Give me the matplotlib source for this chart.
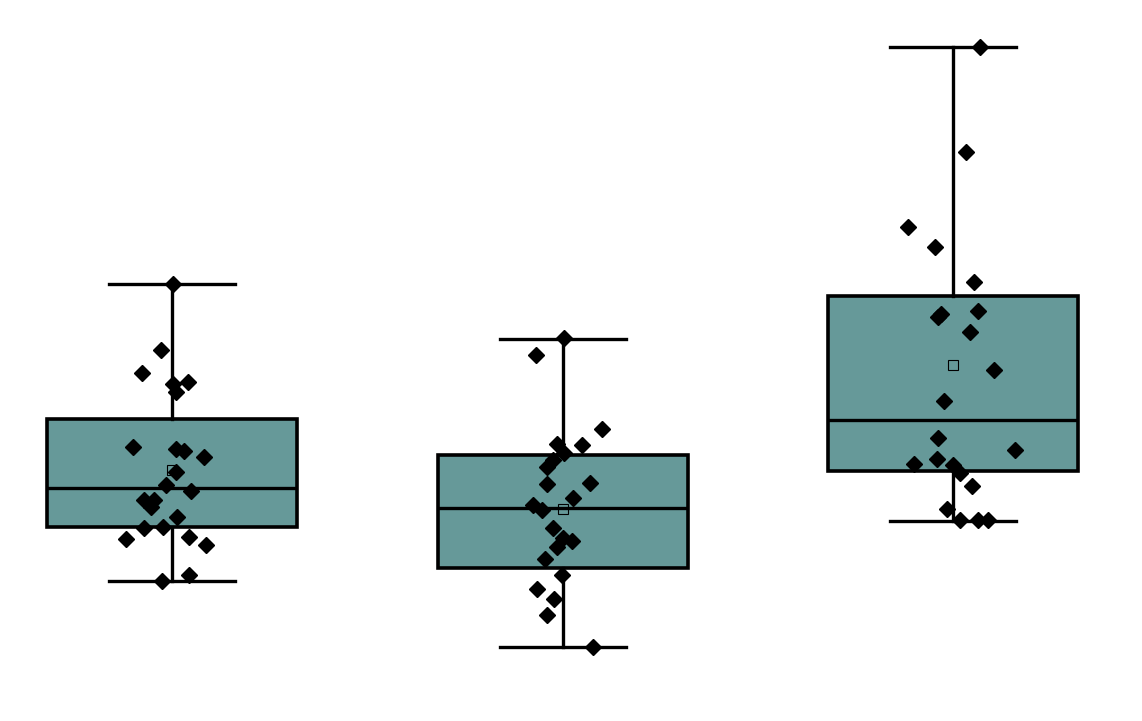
import matplotlib
matplotlib.use("Agg")
import matplotlib.pyplot as plt

# values (arbitrary units, bigger = higher)
groups = ["A", "B", "C"]

whis_hi = [437, 382, 674]
q3 = [302, 266, 425]
medians = [233, 213, 301]
q1 = [194, 153, 250]
whis_lo = [140, 74, 200]
means = [251, 212, 356]

# jittered points: (x offset from box centre, value)
pts_a = [(1, 437), (-11, 371), (-30, 348), (1, 337), (16, 339), (4, 329),
         (-39, 274), (4, 272), (12, 270), (32, 264), (4, 249), (-6, 236),
         (19, 230), (-28, 221), (-18, 221), (-21, 214), (5, 204), (-28, 193),
         (-9, 194), (-46, 182), (17, 184), (34, 176), (17, 146), (-10, 140)]
pts_b = [(1, 383), (-27, 366), (39, 292), (19, 276), (-6, 277), (1, 268),
         (-10, 261), (-16, 254), (-16, 237), (27, 238), (10, 223), (-30, 216),
         (-21, 211), (-10, 193), (0, 183), (9, 180), (-6, 174), (-18, 162),
         (-1, 146), (-26, 132), (-9, 122), (-16, 106), (30, 74)]
pts_c = [(27, 674), (13, 569), (-45, 494), (-18, 474), (21, 439), (-12, 407),
         (25, 410), (-15, 404), (17, 389), (41, 351), (-9, 320), (-15, 283),
         (62, 271), (-16, 262), (-39, 257), (0, 256), (7, 248), (19, 235),
         (-6, 212), (7, 201), (25, 201), (35, 201)]
points = [pts_a, pts_b, pts_c]

positions = [172, 563, 953]
fill = "#669999"

fig = plt.figure(figsize=(11.42, 7.21), dpi=100)
ax = fig.add_axes([0, 0, 1, 1])

stats = []
for i, name in enumerate(groups):
    stats.append({"label": name, "whislo": whis_lo[i], "q1": q1[i],
                  "med": medians[i], "q3": q3[i], "whishi": whis_hi[i],
                  "mean": means[i]})

ax.bxp(stats, positions=positions, widths=250, capwidths=126,
       patch_artist=True, showmeans=True, showfliers=False,
       boxprops=dict(facecolor=fill, edgecolor="black", linewidth=2.6),
       medianprops=dict(color="black", linewidth=2.4),
       whiskerprops=dict(color="black", linewidth=2.4),
       capprops=dict(color="black", linewidth=2.4),
       meanprops=dict(marker="s", markersize=7, markerfacecolor="none",
                      markeredgecolor="black", markeredgewidth=0.8))

for pos, pts in zip(positions, points):
    xs = [pos + dx for dx, v in pts]
    ys = [v for dx, v in pts]
    ax.plot(xs, ys, linestyle="none", marker="D", markersize=8,
            color="black", zorder=5)

ax.set_xlim(0, 1142)
ax.set_ylim(0, 721)
ax.axis("off")

fig.savefig("out.png", dpi=100)
